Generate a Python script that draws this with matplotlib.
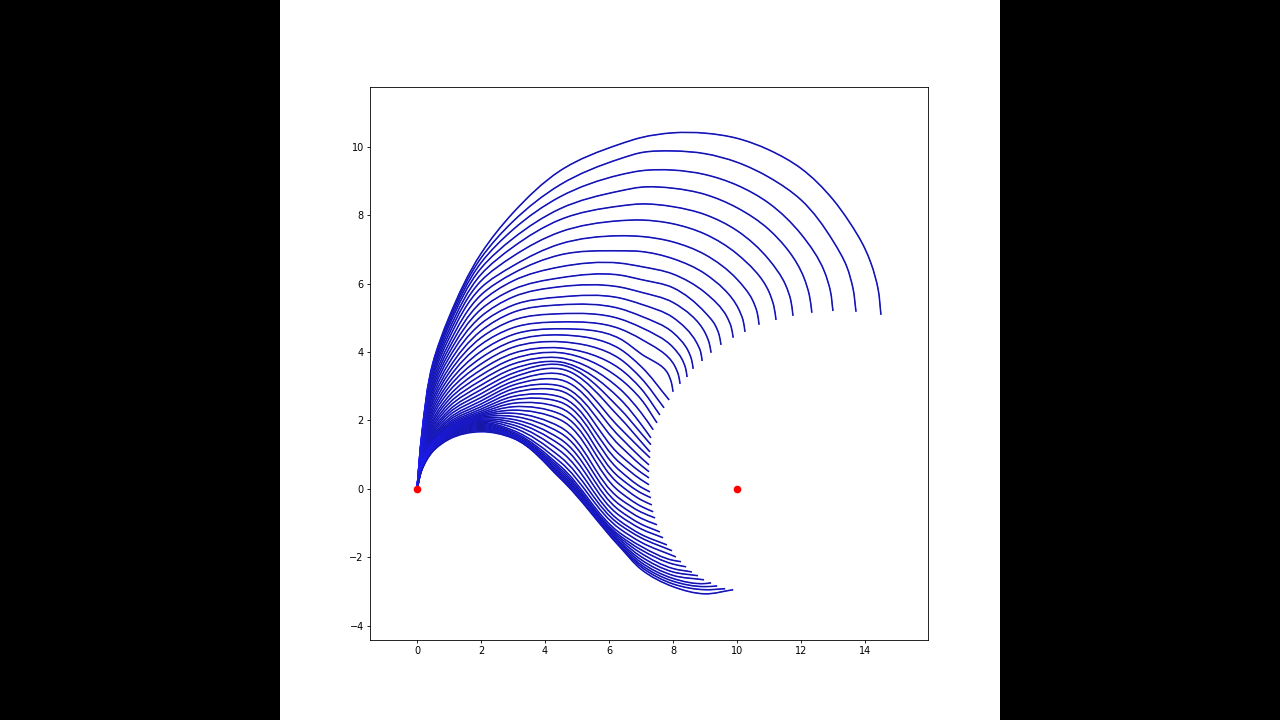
import matplotlib
matplotlib.use('Agg')
import matplotlib.pyplot as plt
import numpy as np
from matplotlib.patches import Rectangle, PathPatch
from matplotlib.path import Path

# red markers
dot_x = [0, 10]
dot_y = [0, 0]

# end point of every trajectory (outermost first)
end_x = [14.50, 13.72, 13.00, 12.34, 11.75, 11.22, 10.69, 10.25, 9.88, 9.50,
         9.19, 8.91, 8.63, 8.44, 8.22, 8.00, 7.88, 7.72, 7.59, 7.50,
         7.38, 7.31, 7.31, 7.28, 7.28, 7.25, 7.25, 7.25, 7.25, 7.28,
         7.31, 7.34, 7.38, 7.44, 7.50, 7.59, 7.69, 7.81, 7.97, 8.09,
         8.25, 8.41, 8.59, 8.78, 8.97, 9.19, 9.38, 9.63, 9.88]
end_y = [5.09, 5.18, 5.20, 5.15, 5.06, 4.94, 4.80, 4.59, 4.42, 4.21,
         3.98, 3.74, 3.51, 3.27, 3.07, 2.84, 2.60, 2.37, 2.16, 1.93,
         1.73, 1.49, 1.29, 1.08, 0.91, 0.70, 0.50, 0.32, 0.12, -0.09,
         -0.26, -0.47, -0.67, -0.85, -1.05, -1.26, -1.43, -1.64, -1.81, -1.99,
         -2.13, -2.28, -2.43, -2.54, -2.66, -2.75, -2.84, -2.92, -2.95]

# height of each trajectory where it crosses a given x
y_x015 = [1.60, 1.59, 1.57, 1.54, 1.51, 1.48, 1.44, 1.40, 1.36, 1.32, 1.28, 1.23, 1.19, 1.14, 1.10, 1.06, 1.02,
          0.98, 0.94, 0.91, 0.88, 0.85, 0.82, 0.79, 0.77, 0.74, 0.73, 0.71, 0.69, 0.68, 0.67, 0.66, 0.66,
          0.65, 0.65, 0.64, 0.64, 0.63, 0.63, 0.62, 0.61, 0.61, 0.60, 0.59, 0.58, 0.58, 0.57, 0.56, 0.55]
y_x05 = [3.70, 3.66, 3.60, 3.53, 3.45, 3.36, 3.27, 3.16, 3.06, 2.96, 2.86, 2.75, 2.64, 2.54, 2.43, 2.33, 2.23,
         2.14, 2.04, 1.96, 1.88, 1.81, 1.74, 1.68, 1.62, 1.56, 1.52, 1.47, 1.43, 1.40, 1.37, 1.36, 1.34,
         1.33, 1.31, 1.30, 1.29, 1.28, 1.26, 1.25, 1.23, 1.22, 1.20, 1.19, 1.17, 1.16, 1.14, 1.12, 1.10]
y_x1 = [5.02, 4.95, 4.86, 4.77, 4.65, 4.53, 4.40, 4.25, 4.11, 3.97, 3.83, 3.68, 3.53, 3.39, 3.25, 3.11, 2.98,
        2.85, 2.72, 2.61, 2.50, 2.40, 2.30, 2.22, 2.14, 2.06, 2.00, 1.94, 1.89, 1.85, 1.81, 1.79, 1.77,
        1.75, 1.73, 1.71, 1.70, 1.68, 1.66, 1.64, 1.62, 1.60, 1.58, 1.56, 1.54, 1.52, 1.49, 1.47, 1.45]
y_x2 = [6.88, 6.75, 6.61, 6.45, 6.27, 6.08, 5.88, 5.67, 5.46, 5.25, 5.04, 4.83, 4.62, 4.42, 4.22, 4.02, 3.83,
        3.65, 3.48, 3.32, 3.17, 3.03, 2.90, 2.78, 2.67, 2.57, 2.48, 2.40, 2.33, 2.27, 2.22, 2.18, 2.15,
        2.12, 2.09, 2.06, 2.03, 2.00, 1.97, 1.94, 1.91, 1.88, 1.85, 1.82, 1.79, 1.76, 1.73, 1.70, 1.67]
y_x3 = [8.07, 7.82, 7.58, 7.32, 7.07, 6.80, 6.52, 6.30, 6.08, 5.83, 5.61, 5.37, 5.16, 4.93, 4.71, 4.51, 4.32,
        4.14, 3.96, 3.80, 3.65, 3.51, 3.38, 3.26, 3.14, 3.03, 2.92, 2.81, 2.70, 2.60, 2.50, 2.40, 2.30,
        2.21, 2.12, 2.03, 1.95, 1.87, 1.79, 1.71, 1.66, 1.62, 1.58, 1.55, 1.53, 1.51, 1.50, 1.49, 1.48]
y_x447 = [9.30, 8.89, 8.54, 8.19, 7.87, 7.51, 7.16, 6.84, 6.49, 6.17, 5.91, 5.61, 5.38, 5.12, 4.88, 4.68, 4.50,
          4.30, 4.12, 3.98, 3.83, 3.71, 3.63, 3.51, 3.36, 3.19, 3.01, 2.87, 2.69, 2.54, 2.37, 2.19, 2.02,
          1.81, 1.64, 1.46, 1.29, 1.11, 0.94, 0.79, 0.67, 0.60, 0.54, 0.48, 0.44, 0.39, 0.37, 0.34, 0.31]
y_x634 = [10.08, 9.65, 9.18, 8.71, 8.27, 7.84, 7.40, 6.96, 6.60, 6.25, 5.90, 5.58, 5.27, 4.97, 4.68, 4.39, 4.09,
          3.80, 3.51, 3.22, 2.92, 2.63, 2.34, 2.08, 1.78, 1.52, 1.26, 0.99, 0.76, 0.53, 0.32, 0.12, -0.09,
          -0.29, -0.47, -0.64, -0.79, -0.94, -1.05, -1.17, -1.29, -1.37, -1.43, -1.49, -1.55, -1.59, -1.64, -1.67, -1.70]
y_x7 = [10.27, 9.83, 9.30, 8.82, 8.33, 7.86, 7.38, 6.94, 6.50, 6.12, 5.75, 5.40, 5.05, 4.72, 4.38, 3.95, 3.58,
        3.24, 2.93, 2.62, 2.23, 1.89, 1.63, 1.38, 1.16, 0.91, 0.69, 0.48, 0.27, 0.05, -0.12, -0.32, -0.51,
        -0.68, -0.86, -1.03, -1.17, -1.33, -1.43, -1.56, -1.68, -1.78, -1.88, -1.98, -2.07, -2.15, -2.22, -2.28, -2.35]
y_x8 = [10.41, 9.88, 9.32, 8.79, 8.25, 7.75, 7.22, 6.73, 6.28, 5.88, 5.45, 5.01, 4.57, 4.14] + [None] * 26 + \
       [-2.09, -2.20, -2.33, -2.43, -2.53, -2.62, -2.70, -2.78, -2.86]
y_x9 = [10.40, 9.80, 9.19, 8.61, 8.02, 7.45, 6.85, 6.29, 5.74, 5.16] + [None] * 35 + \
       [-2.77, -2.86, -2.95, -3.07]
y_x10 = [10.25, 9.55, 8.88, 8.22, 7.55, 6.87, 6.13]
y_x11 = [9.91, 9.11, 8.35, 7.58, 6.70]
y_x12 = [9.37, 8.45, 7.45]
y_x13 = [8.46, 7.25]
y_x13_5 = [7.82]
y_x14 = [7.02]

# two points just before the end of the outer arcs
pre1_x = [14.19, 13.43, 12.73, 12.09, 11.51, 11.00, 10.48, 10.05, 9.68, 9.31, 9.01, 8.73, 8.46, 8.27, 8.05, 7.84]
pre1_y = [6.59, 6.50, 6.36, 6.18, 5.98, 5.76, 5.53, 5.26, 5.04, 4.80, 4.55, 4.29, 4.06, 3.81, 3.60, 3.37]
pre2_x = [14.41, 13.63, 12.92, 12.26, 11.68, 11.15, 10.63, 10.19, 9.82, 9.44, 9.13, 8.86, 8.58, 8.39, 8.17, 7.95]
pre2_y = [5.84, 5.84, 5.78, 5.67, 5.52, 5.35, 5.16, 4.93, 4.73, 4.51, 4.27, 4.02, 3.78, 3.54, 3.33, 3.11]

columns = [(0.15, y_x015), (0.5, y_x05), (1.0, y_x1), (2.0, y_x2), (3.0, y_x3), (4.47, y_x447),
           (6.34, y_x634), (7.0, y_x7), (8.0, y_x8), (9.0, y_x9), (10.0, y_x10), (11.0, y_x11),
           (12.0, y_x12), (13.0, y_x13), (13.5, y_x13_5), (14.0, y_x14)]


def smooth_path(pts):
    # cubic pieces through the points, tangent of the parabola through each triple
    p = np.asarray(pts, dtype=float)
    v = np.diff(p, axis=0)
    d = np.hypot(v[:, 0], v[:, 1])
    u = v / d[:, None]
    tan = np.zeros_like(p)
    tan[0] = u[0]
    tan[-1] = u[-1]
    for i in range(1, len(p) - 1):
        tan[i] = (d[i] * u[i - 1] + d[i - 1] * u[i]) / (d[i - 1] + d[i])
    verts, codes = [p[0]], [Path.MOVETO]
    for i in range(len(p) - 1):
        verts += [p[i] + tan[i] * d[i] / 3, p[i + 1] - tan[i + 1] * d[i] / 3, p[i + 1]]
        codes += [Path.CURVE4] * 3
    return Path(verts, codes)


fig = plt.figure(figsize=(12.8, 7.2), dpi=100, facecolor='black')
fig.add_artist(Rectangle((280 / 1280, 0), 720 / 1280, 1, transform=fig.transFigure,
                         facecolor='white', edgecolor='none', zorder=0))
ax = fig.add_axes([370 / 1280, 80 / 720, 558 / 1280, 553 / 720])

for k in range(len(end_x)):
    limit = pre1_x[k] - 0.05 if k < len(pre1_x) else end_x[k] - 0.1
    pts = [(0.0, 0.0)]
    for xc, col in columns:
        if k < len(col) and col[k] is not None and xc < limit:
            pts.append((xc, col[k]))
    if k < len(pre1_x):
        pts += [(pre1_x[k], pre1_y[k]), (pre2_x[k], pre2_y[k])]
    pts.append((end_x[k], end_y[k]))
    path = smooth_path(pts)
    # blue stroke with a darker core, as the lines look in the picture
    ax.add_patch(PathPatch(path, fill=False, edgecolor='#1e1eff', lw=1.15))
    ax.add_patch(PathPatch(path, fill=False, edgecolor='#15157e', lw=0.6))

ax.plot(dot_x, dot_y, 'o', color='red', markersize=4.5, zorder=5)

ax.set_xlim(-1.47, 15.97)
ax.set_ylim(-4.42, 11.75)
ax.set_xticks(range(0, 15, 2))
ax.set_yticks(range(-4, 11, 2))
ax.tick_params(labelsize=7, length=2.5, width=0.6, pad=2)
for s in ax.spines.values():
    s.set_linewidth(0.6)

fig.savefig('out.png', dpi=100, facecolor='black')
